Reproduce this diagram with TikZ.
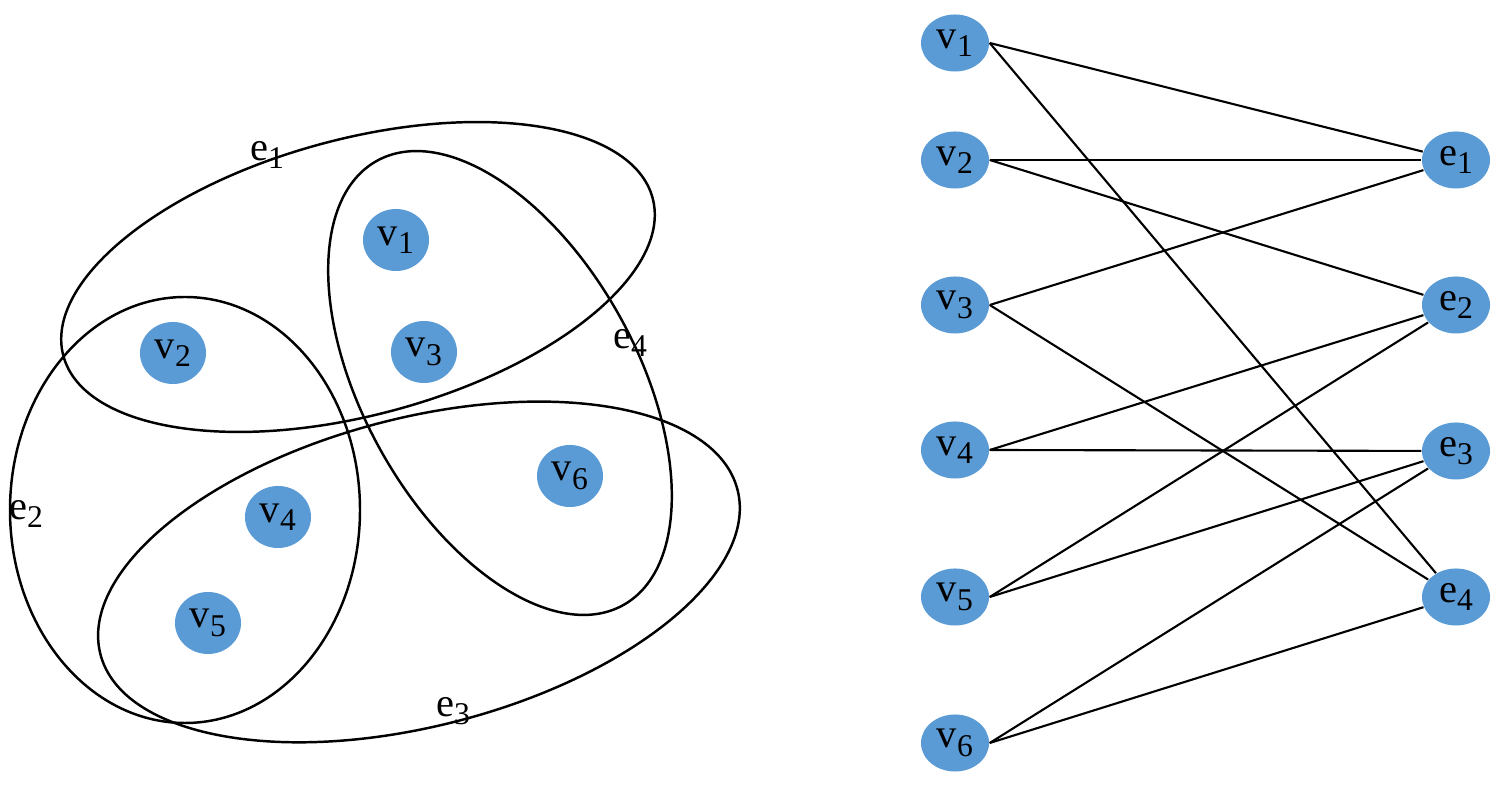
\documentclass[tikz,border=0pt]{standalone}
\usepackage{fontspec}
\setmainfont{Liberation Serif}
\usetikzlibrary{shapes.geometric}
\definecolor{nodeblue}{RGB}{91,155,213}
\newcommand{\lbl}[2]{#1\raisebox{-2.4pt}{\fontsize{9}{10}\selectfont #2}}
\tikzset{
  vcirc/.style={ellipse, fill=nodeblue, draw=none, minimum width=0.66cm, minimum height=0.62cm, inner sep=0pt, font=\fontsize{11.5}{12}\selectfont},
  bnode/.style={ellipse, fill=nodeblue, draw=none, minimum width=0.68cm, minimum height=0.57cm, inner sep=0pt, font=\fontsize{11.5}{12}\selectfont},
  hedge/.style={draw=black, line width=0.7pt},
  hlabel/.style={inner sep=0.5pt, font=\fontsize{11.5}{12}\selectfont},
  link/.style={draw=black, line width=0.6pt}
}
\begin{document}
\begin{tikzpicture}[x=0.01cm,y=-0.01cm]
\useasboundingbox (0,0) rectangle (1500,786);
% ---------- hypergraph (left) ----------
\coordinate (c1) at (358,277);
\coordinate (c2) at (185,510);
\coordinate (c3) at (419,572);
\coordinate (c4) at (500,383);
\draw[hedge, rotate around={15:(c1)}] (c1) ellipse [x radius=305, y radius=138];
\draw[hedge] (c2) ellipse [x radius=175, y radius=213];
\draw[hedge, rotate around={14.5:(c3)}] (c3) ellipse [x radius=329, y radius=154];
\draw[hedge, rotate around={-61:(c4)}] (c4) ellipse [x radius=254, y radius=137];

\node[vcirc] (hv1) at (396,240) {\lbl{v}{1}};
\node[vcirc] (hv2) at (173,353) {\lbl{v}{2}};
\node[vcirc] (hv3) at (424,352) {\lbl{v}{3}};
\node[vcirc] (hv4) at (278,517) {\lbl{v}{4}};
\node[vcirc] (hv5) at (208,623) {\lbl{v}{5}};
\node[vcirc] (hv6) at (570,476) {\lbl{v}{6}};

\node[hlabel] (le1) at (267,155) {\lbl{e}{1}};
\node[hlabel] (le2) at (26,514) {\lbl{e}{2}};
\node[hlabel] (le3) at (453,711) {\lbl{e}{3}};
\node[hlabel] (le4) at (630,343) {\lbl{e}{4}};

% ---------- bipartite graph (right) ----------
\node[bnode] (v1) at (955,43)  {\lbl{v}{1}};
\node[bnode] (v2) at (955,160) {\lbl{v}{2}};
\node[bnode] (v3) at (955,305) {\lbl{v}{3}};
\node[bnode] (v4) at (955,450) {\lbl{v}{4}};
\node[bnode] (v5) at (955,597) {\lbl{v}{5}};
\node[bnode] (v6) at (955,743) {\lbl{v}{6}};
\node[bnode] (e1) at (1456,160) {\lbl{e}{1}};
\node[bnode] (e2) at (1456,305) {\lbl{e}{2}};
\node[bnode] (e3) at (1456,451) {\lbl{e}{3}};
\node[bnode] (e4) at (1456,597) {\lbl{e}{4}};

\draw[link] (v1.east) -- (e1);
\draw[link] (v1.east) -- (e4);
\draw[link] (v2.east) -- (e1);
\draw[link] (v2.east) -- (e2);
\draw[link] (v3.east) -- (e1);
\draw[link] (v3.east) -- (e4);
\draw[link] (v4.east) -- (e2);
\draw[link] (v4.east) -- (e3);
\draw[link] (v5.east) -- (e2);
\draw[link] (v5.east) -- (e3);
\draw[link] (v6.east) -- (e3);
\draw[link] (v6.east) -- (e4);
\end{tikzpicture}
\end{document}
